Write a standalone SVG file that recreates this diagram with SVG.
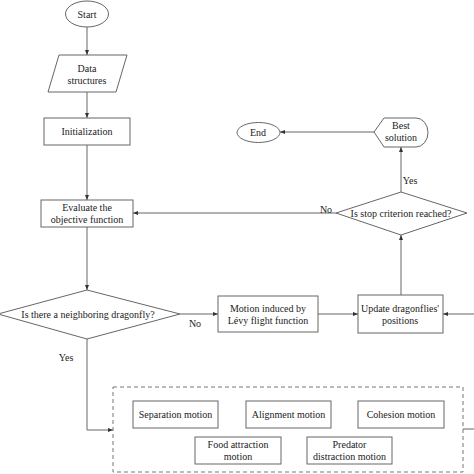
<svg xmlns="http://www.w3.org/2000/svg" width="474" height="474" viewBox="0 0 474 474" font-family="'Liberation Serif','Times New Roman',serif">
<defs>
<marker id="arr" viewBox="0 0 10 10" refX="10" refY="5" markerWidth="5" markerHeight="5" orient="auto" markerUnits="userSpaceOnUse">
<path d="M0,1 L10,5 L0,9 Z" fill="#333"/>
</marker>
<style>
.s{fill:#fff;stroke:#666;stroke-width:1}
.c{fill:none;stroke:#666;stroke-width:1}
.t{font-family:'Liberation Serif','Times New Roman',serif;font-size:10px;fill:#222;text-anchor:middle}
.d{fill:none;stroke:#777;stroke-width:1;stroke-dasharray:4,3}
</style>
</defs>
<rect width="474" height="474" fill="#fff"/>
<g id="connectors">
<path class="c" d="M87,27 V55" marker-end="url(#arr)"/>
<path class="c" d="M87,92 V118" marker-end="url(#arr)"/>
<path class="c" d="M87,145 V200" marker-end="url(#arr)"/>
<path class="c" d="M87,227 V290" marker-end="url(#arr)"/>
<path class="c" d="M180,314 H218" marker-end="url(#arr)"/>
<path class="c" d="M318,314 H358" marker-end="url(#arr)"/>
<path class="c" d="M463,429 H480 V314 H443" marker-end="url(#arr)"/>
<path class="c" d="M401,295 V235" marker-end="url(#arr)"/>
<path class="c" d="M336,213 H133" marker-end="url(#arr)"/>
<path class="c" d="M401,192 V147" marker-end="url(#arr)"/>
<path class="c" d="M374,132 H280" marker-end="url(#arr)"/>
<path class="c" d="M87,339 V430 H113" marker-end="url(#arr)"/>
<text class="t" x="195" y="327">No</text>
<text class="t" x="326" y="213">No</text>
<text class="t" x="410" y="184">Yes</text>
<text class="t" x="66" y="361">Yes</text>
</g>
<g id="start"><ellipse class="s" cx="87" cy="14" rx="21.5" ry="13"/><text class="t" x="87" y="18">Start</text></g>
<g id="data"><polygon class="s" points="59,55 127,55 116,92 48,92"/><text class="t" x="87" y="72">Data</text><text class="t" x="87" y="84">structures</text></g>
<g id="init"><rect class="s" x="44" y="118" width="86" height="27"/><text class="t" x="87" y="135">Initialization</text></g>
<g id="evaluate"><rect class="s" x="41" y="200" width="92" height="27"/><text class="t" x="87" y="211">Evaluate the</text><text class="t" x="87" y="223">objective function</text></g>
<g id="neighbor"><polygon class="s" points="87,290 180,314 87,339 -2,314"/><text class="t" x="88" y="318">Is there a neighboring dragonfly?</text></g>
<g id="levy"><rect class="s" x="218" y="296" width="100" height="36"/><text class="t" x="268" y="312">Motion induced by</text><text class="t" x="268" y="324">Lévy flight function</text></g>
<g id="update"><rect class="s" x="358" y="295" width="85" height="38"/><text class="t" x="400" y="312">Update dragonflies'</text><text class="t" x="400" y="324">positions</text></g>
<g id="stop"><polygon class="s" points="401,192 467,213 401,235 336,213"/><text class="t" x="401" y="217">Is stop criterion reached?</text></g>
<g id="best"><path class="s" d="M374,132 L384,118 H416 A12,14.5 0 0 1 416,147 H384 Z"/><text class="t" x="401" y="129">Best</text><text class="t" x="401" y="141">solution</text></g>
<g id="end"><ellipse class="s" cx="258.5" cy="132.5" rx="21.5" ry="10"/><text class="t" x="258" y="136">End</text></g>
<g id="motions">
<rect class="d" x="113" y="387" width="350" height="85"/>
<g id="separation"><rect class="s" x="133" y="401" width="85" height="27"/><text class="t" x="175.5" y="418">Separation motion</text></g>
<g id="alignment"><rect class="s" x="246" y="401" width="85" height="27"/><text class="t" x="288.5" y="418">Alignment motion</text></g>
<g id="cohesion"><rect class="s" x="358" y="401" width="86" height="27"/><text class="t" x="401" y="418">Cohesion motion</text></g>
<g id="food"><rect class="s" x="195" y="437" width="86" height="27"/><text class="t" x="238" y="448">Food attraction</text><text class="t" x="238" y="460">motion</text></g>
<g id="predator"><rect class="s" x="307" y="437" width="85" height="27"/><text class="t" x="349.5" y="448">Predator</text><text class="t" x="349.5" y="460">distraction motion</text></g>
</g>
</svg>
